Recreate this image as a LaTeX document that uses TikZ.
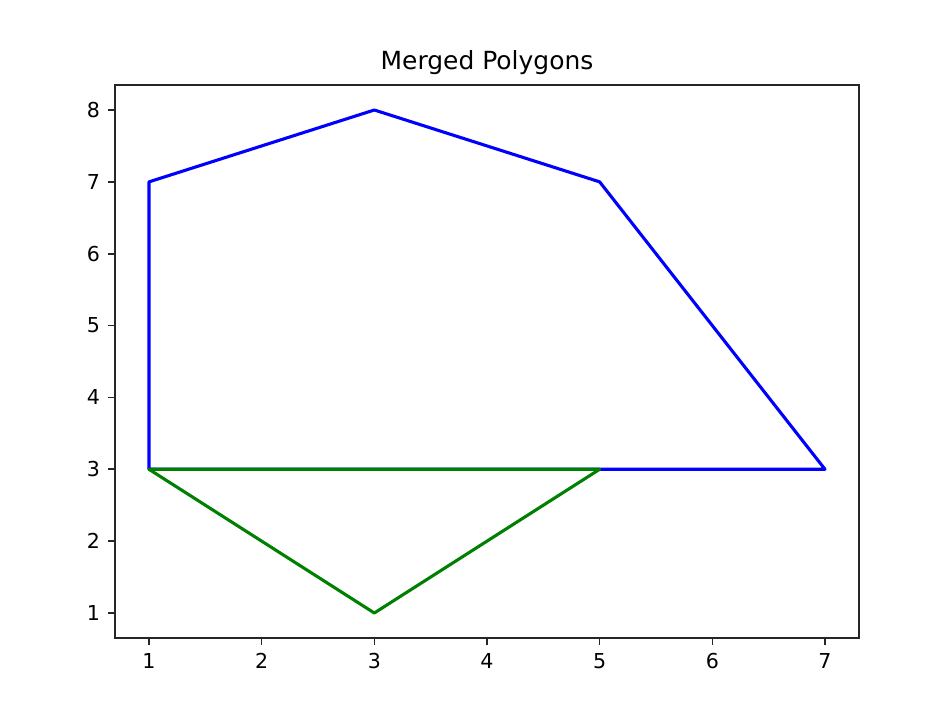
\documentclass[tikz,border=0pt]{standalone}
\usepackage{fontspec}
\setmainfont{DejaVu Sans}
\usetikzlibrary{calc}
\definecolor{plotblue}{rgb}{0,0,1}
\definecolor{plotgreen}{rgb}{0,0.5,0}

\begin{document}
\begin{tikzpicture}[
  frame/.style={draw, line width=0.94pt, black!85},
  tickmark/.style={line width=0.94pt, black!85},
  ticklabel/.style={inner sep=0pt, text=black, font=\fontsize{11.7}{14}\selectfont},
  poly/.style={line width=1.76pt, line join=round, draw=#1}
]
  \useasboundingbox (0,0) rectangle (18.5,14.3);
  \begin{scope}[shift={(0.7266,0.6028)}, x=2.2533cm, y=1.4371cm]
    % Axes frame
    \draw[frame] (0.7,0.65) rectangle (7.3,8.35);
    % Ticks
    \foreach \x in {1,...,7}{
      \draw[tickmark] (\x,0.65) -- ++(0,-0.144cm)
        node[ticklabel, anchor=north, yshift=-0.144cm] (xl\x) {\x};
    }
    \foreach \y in {1,...,8}{
      \draw[tickmark] (0.7,\y) -- ++(-0.144cm,0)
        node[ticklabel, anchor=east, xshift=-0.144cm] (yl\y) {\y};
    }
    % Title
    \node[font=\fontsize{14.2}{17}\selectfont, inner sep=0pt] (title) at (4,8.654) {Merged Polygons};
    % Vertices
    \coordinate (a) at (1,3);
    \coordinate (b) at (1,7);
    \coordinate (c) at (3,8);
    \coordinate (d) at (5,7);
    \coordinate (e) at (7,3);
    \coordinate (f) at (3,1);
    \coordinate (g) at (5,3);
    % Polygons
    \draw[poly=plotblue] (a) -- (b) -- (c) -- (d) -- (e) -- cycle;
    \draw[poly=plotgreen] (a) -- (f) -- (g) -- cycle;
  \end{scope}
\end{tikzpicture}
\end{document}
